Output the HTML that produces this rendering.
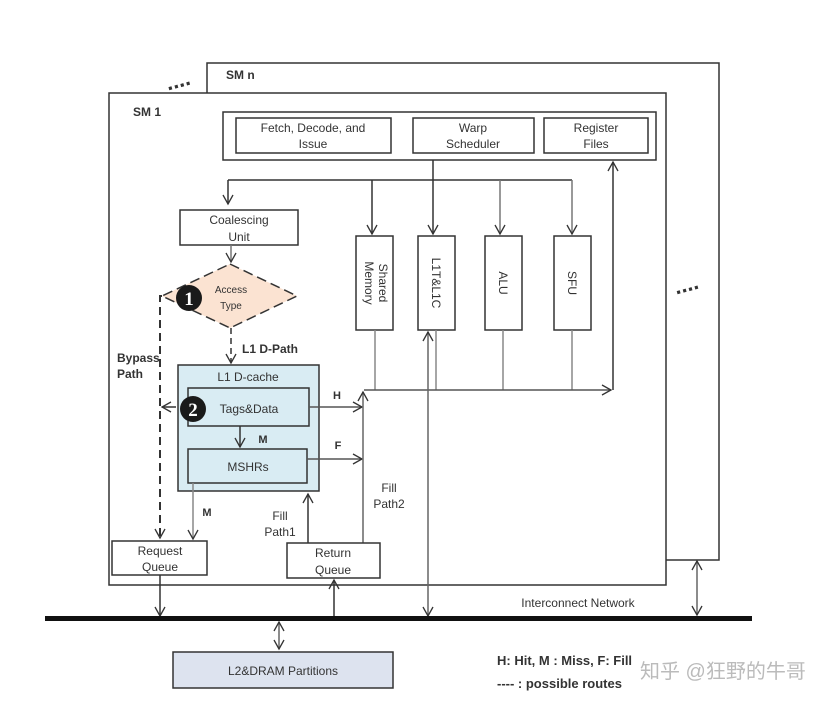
<!DOCTYPE html>
<html><head><meta charset="utf-8"><style>
html,body{margin:0;padding:0;background:#fff}
svg{display:block}
text{font-family:"Liberation Sans",Arial,sans-serif;fill:#333}
</style></head><body>
<svg width="824" height="703" viewBox="0 0 824 703" xmlns="http://www.w3.org/2000/svg">
<defs>
<marker id="a" markerWidth="14" markerHeight="14" refX="10" refY="6" orient="auto" markerUnits="userSpaceOnUse">
<path d="M1,1 L10,6 L1,11" fill="none" stroke="#333" stroke-width="1.3"/></marker>
<marker id="s" markerWidth="14" markerHeight="14" refX="1" refY="6" orient="auto" markerUnits="userSpaceOnUse">
<path d="M10,1 L1,6 L10,11" fill="none" stroke="#333" stroke-width="1.3"/></marker>
</defs>
<g fill="none" stroke="#333" stroke-width="1.5">
<rect x="207" y="63" width="512" height="497" fill="#fff"/>
<rect x="109" y="93" width="557" height="492" fill="#fff"/>
<rect x="223" y="112" width="433" height="48"/>
<rect x="236" y="118" width="155" height="35"/>
<rect x="413" y="118" width="121" height="35"/>
<rect x="544" y="118" width="104" height="35"/>
<path d="M228,180 H572"/>
<path d="M228,180 V204" marker-end="url(#a)"/>
<path d="M433,160 V234" marker-end="url(#a)"/>
<path d="M372,180 V234" marker-end="url(#a)"/>
<path d="M500,180 V234" marker-end="url(#a)" stroke="#777"/>
<path d="M572,180 V234" marker-end="url(#a)" stroke="#777"/>
<rect x="180" y="210" width="118" height="35"/>
<path d="M231,245 V262" marker-end="url(#a)" stroke="#777"/>
<polygon points="230,264 297,296 230,328 162,296" fill="#fbe3d2" stroke-dasharray="10,5"/>
<rect x="356" y="236" width="37" height="94"/>
<rect x="418" y="236" width="37" height="94"/>
<rect x="485" y="236" width="37" height="94"/>
<rect x="554" y="236" width="37" height="94"/>
<g stroke="#888"><path d="M375,330 V390"/><path d="M436,330 V390"/><path d="M503,330 V390"/><path d="M572,330 V390"/></g>
<path d="M364,390 H611" marker-end="url(#a)" stroke="#555"/>
<path d="M613,390 V162" marker-end="url(#a)"/>
<path d="M231,328 V363" marker-end="url(#a)" stroke-dasharray="6,4"/>
<rect x="178" y="365" width="141" height="126" fill="#d9ecf3"/>
<rect x="188" y="388" width="121" height="38"/>
<rect x="188" y="449" width="119" height="34"/>
<path d="M240,426 V447" marker-end="url(#a)"/>
<path d="M309,407 H362" marker-end="url(#a)" stroke="#555"/>
<path d="M307,459 H362" marker-end="url(#a)" stroke="#555"/>
<path d="M363,543 V392" marker-end="url(#a)" stroke="#666"/>
<path d="M162,296 H160 V538" marker-end="url(#a)" stroke-dasharray="8,5" stroke-width="2"/>
<path d="M176,407 H162" marker-end="url(#a)"/>
<rect x="112" y="541" width="95" height="34"/>
<rect x="287" y="543" width="93" height="35"/>
<path d="M193,483 V539" marker-end="url(#a)" stroke="#888"/>
<path d="M308,543 V494" marker-end="url(#a)"/>
<path d="M160,575 V616" marker-end="url(#a)"/>
<path d="M334,616 V580" marker-end="url(#a)"/>
<path d="M428,616 V332" marker-end="url(#a)" marker-start="url(#s)" stroke="#666"/>
<path d="M697,561 V615" marker-end="url(#a)" marker-start="url(#s)" stroke="#666"/>
<path d="M279,622 V649" marker-end="url(#a)" marker-start="url(#s)" stroke="#666"/>
<rect x="173" y="652" width="220" height="36" fill="#dde3ef"/>
</g>
<rect x="45" y="616" width="707" height="5" fill="#111"/>
<circle cx="189" cy="298" r="13" fill="#1a1a1a"/>
<text x="189" y="305" font-size="19" font-weight="bold" text-anchor="middle" style="fill:#fff;font-family:'Liberation Serif',serif">1</text>
<circle cx="193" cy="409" r="13" fill="#1a1a1a"/>
<text x="193" y="416" font-size="19" font-weight="bold" text-anchor="middle" style="fill:#fff;font-family:'Liberation Serif',serif">2</text>
<text x="166" y="88" font-size="22" font-weight="bold" transform="rotate(-15 177 82)">....</text>
<text x="674" y="292" font-size="22" font-weight="bold" transform="rotate(-15 685 285)">....</text>
<g font-size="12" text-anchor="middle">
<text x="226" y="79" font-weight="bold" text-anchor="start">SM n</text>
<text x="133" y="116" font-weight="bold" text-anchor="start">SM 1</text>
<text x="313" y="132">Fetch, Decode, and</text><text x="313" y="148">Issue</text>
<text x="473" y="132">Warp</text><text x="473" y="148">Scheduler</text>
<text x="596" y="132">Register</text><text x="596" y="148">Files</text>
<text x="239" y="224">Coalescing</text><text x="239" y="241">Unit</text>
<text x="231" y="293" font-size="10">Access</text><text x="231" y="309" font-size="10">Type</text>
<text x="242" y="353" font-weight="bold" text-anchor="start">L1 D-Path</text>
<text x="117" y="362" font-weight="bold" text-anchor="start">Bypass</text>
<text x="117" y="378" font-weight="bold" text-anchor="start">Path</text>
<text x="248" y="381">L1 D-cache</text>
<text x="249" y="413">Tags&amp;Data</text>
<text x="248" y="471">MSHRs</text>
<text x="263" y="443" font-weight="bold" font-size="11">M</text>
<text x="337" y="399" font-weight="bold" font-size="11">H</text>
<text x="338" y="449" font-weight="bold" font-size="11">F</text>
<text x="207" y="516" font-weight="bold" font-size="11">M</text>
<text x="280" y="520">Fill</text><text x="280" y="536">Path1</text>
<text x="389" y="492">Fill</text><text x="389" y="508">Path2</text>
<text x="160" y="555">Request</text><text x="160" y="571">Queue</text>
<text x="333" y="557">Return</text><text x="333" y="574">Queue</text>
<text x="283" y="675">L2&amp;DRAM Partitions</text>
<text x="578" y="607">Interconnect Network</text>
<text x="497" y="665" font-weight="bold" font-size="13" text-anchor="start">H: Hit, M : Miss, F: Fill</text>
<text x="497" y="688" font-weight="bold" font-size="13" text-anchor="start">---- : possible routes</text>
<text transform="translate(379,283) rotate(90)">Shared</text>
<text transform="translate(365,283) rotate(90)">Memory</text>
<text transform="translate(432,283) rotate(90)">L1T&amp;L1C</text>
<text transform="translate(499,283) rotate(90)">ALU</text>
<text transform="translate(568,283) rotate(90)">SFU</text>
</g>
<text x="640" y="678" font-size="20" style="fill:#bbb;font-family:'Liberation Sans','Noto Sans CJK SC',sans-serif">知乎 @狂野的牛哥</text>
</svg>
</body></html>
